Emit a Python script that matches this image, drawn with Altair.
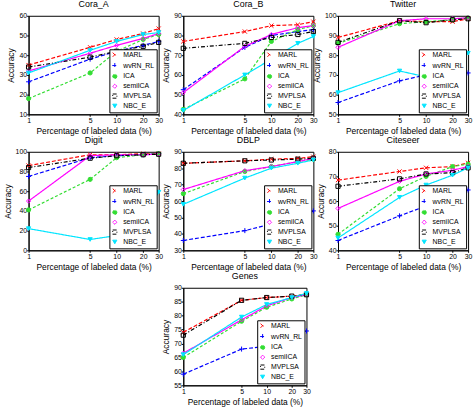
import altair as alt
import pandas as pd

x_vals = [1, 5, 10, 20, 30]
series = ["MARL", "wvRN_RL", "ICA", "semiICA", "MVPLSA", "NBC_E"]

cora_a = {
    "MARL": [35, 44, 48, 51, 53.5],
    "wvRN_RL": [26.5, 38, 42, 45, 47],
    "ICA": [18, 31, 42, 48, 50.5],
    "semiICA": [32, 41, 45, 48.5, 51],
    "MVPLSA": [34, 39, 42, 44.5, 46.5],
    "NBC_E": [31, 42.5, 47, 50.5, 51.5],
}
cora_b = {
    "MARL": [77, 82, 85, 85.5, 87],
    "wvRN_RL": [52.5, 74, 80, 82, 83],
    "ICA": [42.5, 58, 77, 83, 85],
    "semiICA": [51, 74.5, 80.5, 84, 85],
    "MVPLSA": [73.5, 76, 79, 80.5, 82],
    "NBC_E": [42, 60, 68, 76, 79.5],
}
twitter = {
    "MARL": [89, 97.5, 97, 97, 98.5],
    "wvRN_RL": [56, 67, 70, 70.5, 71],
    "ICA": [86, 96, 97, 98, 99],
    "semiICA": [84, 97.5, 98.5, 98.5, 99],
    "MVPLSA": [86.5, 97.5, 96.5, 98, 98.5],
    "NBC_E": [61, 72, 69, 77.5, 81],
}
digit = {
    "MARL": [86, 97, 97, 98, 98],
    "wvRN_RL": [75, 94, 96, 97, 98],
    "ICA": [41, 72, 94, 97, 98],
    "semiICA": [50, 96, 97, 97, 97.5],
    "MVPLSA": [84, 93.5, 96, 97, 97.5],
    "NBC_E": [22, 11, 15, 32, 59],
}
dblp = {
    "MARL": [83, 84.5, 85.5, 86, 87],
    "wvRN_RL": [36, 42, 46, 50, 54],
    "ICA": [64.5, 78, 81, 84, 85.5],
    "semiICA": [67, 78.5, 81, 84, 86],
    "MVPLSA": [83, 84.5, 85, 85.5, 86],
    "NBC_E": [58, 74, 80, 83, 85],
}
citeseer = {
    "MARL": [68.5, 72, 73.5, 74, 75.5],
    "wvRN_RL": [44, 54, 58, 62, 64.5],
    "ICA": [46.5, 65, 70, 74, 75],
    "semiICA": [57, 68, 71, 72.5, 74],
    "MVPLSA": [66, 69, 71, 71.5, 73.5],
    "NBC_E": [45, 61.5, 66.5, 70.5, 73.5],
}
genes = {
    "MARL": [74, 85.5, 86.5, 87, 87.5],
    "wvRN_RL": [59, 68, 69, 72, 74.5],
    "ICA": [65, 78, 83, 86, 87.5],
    "semiICA": [66.5, 78.5, 83.5, 86.5, 87.5],
    "MVPLSA": [73, 85.5, 86.5, 87, 87.5],
    "NBC_E": [66, 79.5, 84, 86.5, 88],
}

line_colors = ["#ff0000", "#0000ff", "#33dd33", "#ff00ff", "#000000", "#00e5ff"]
fills = ["transparent", "transparent", "#33dd33", "transparent", "transparent", "#00e5ff"]
shapes = ["M-1,-1L1,1M-1,1L1,-1", "M-1.2,0L1.2,0M0,-1.2L0,1.2", "circle", "diamond", "square", "triangle-down"]
dashes = [[4, 2], [4, 2], [3, 2], [1, 0], [4, 2, 1, 2], [1, 0]]


def panel(name, data, ydom, yticks, w=132, h=100):
    rows = [{"series": s, "x": xv, "y": v} for s in series for xv, v in zip(x_vals, data[s])]
    df = pd.DataFrame(rows)
    base = alt.Chart(df).encode(
        x=alt.X("x:Q", scale=alt.Scale(type="log", domain=[1, 30], nice=False),
                axis=alt.Axis(values=x_vals, title="Percentage of labeled data (%)", format="d",
                              labelFlush=False, labelPadding=0, titlePadding=3)),
        y=alt.Y("y:Q", scale=alt.Scale(domain=ydom, nice=False, zero=False),
                axis=alt.Axis(values=yticks, title="Accuracy", labelFlush=False, labelPadding=0, titlePadding=3)),
        color=alt.Color("series:N", scale=alt.Scale(domain=series, range=line_colors), legend=alt.Legend(title=None)),
    )
    lines = base.mark_line(strokeWidth=1.2).encode(
        strokeDash=alt.StrokeDash("series:N", scale=alt.Scale(domain=series, range=dashes), legend=None)
    )
    points = base.mark_point(filled=False, size=18, strokeWidth=1, opacity=1).encode(
        shape=alt.Shape("series:N", scale=alt.Scale(domain=series, range=shapes), legend=alt.Legend(title=None)),
        fill=alt.Fill("series:N", scale=alt.Scale(domain=series, range=fills), legend=alt.Legend(title=None)),
    )
    return alt.layer(lines, points).properties(title=name, width=w, height=h)


res = dict(color="independent", shape="independent", fill="independent", strokeDash="independent")

spacer = alt.Chart(pd.DataFrame({"a": [0]})).mark_point(opacity=0).encode(
    x=alt.X("a:Q", axis=None), y=alt.Y("a:Q", axis=None)
).properties(width=132, height=99, view=alt.ViewBackground(strokeOpacity=0))

chart = alt.concat(
    panel("Cora_A", cora_a, [10, 60], [10, 20, 30, 40, 50, 60]),
    panel("Cora_B", cora_b, [40, 90], [40, 50, 60, 70, 80, 90]),
    panel("Twitter", twitter, [50, 100], [50, 60, 70, 80, 90, 100]),
    panel("Digit", digit, [0, 100], [0, 20, 40, 60, 80, 100]),
    panel("DBLP", dblp, [30, 90], [30, 40, 50, 60, 70, 80, 90]),
    panel("Citeseer", citeseer, [40, 80], [40, 50, 60, 70, 80]),
    spacer,
    panel("Genes", genes, [55, 90], [55, 60, 65, 70, 75, 80, 85, 90], w=125, h=99),
    columns=3, spacing={"row": 38, "column": 25}, bounds="flush", center=True,
).resolve_scale(**res).properties(
    padding={"left": 2, "top": -4, "right": 0, "bottom": 0}
).configure_view(stroke="black", strokeWidth=1).configure_axis(
    domainColor="black", tickColor="black", labelColor="black", titleColor="black",
    labelFont="Liberation Sans", titleFont="Liberation Sans",
    labelFontSize=7, titleFontSize=8.5, titleFontWeight="normal",
    grid=False, tickSize=2,
).configure_title(
    font="Liberation Sans", fontSize=9, fontWeight="normal", color="black", offset=3,
    anchor="middle", baseline="alphabetic"
).configure_legend(
    orient="bottom-right", fillColor="white", strokeColor="black", padding=2, offset=2,
    labelFont="Liberation Sans", labelFontSize=7, labelColor="black", symbolSize=18,
    rowPadding=1, labelOffset=5, symbolStrokeWidth=1, cornerRadius=0,
)

chart.save("out.html", embed_options={"renderer": "svg", "actions": False})
